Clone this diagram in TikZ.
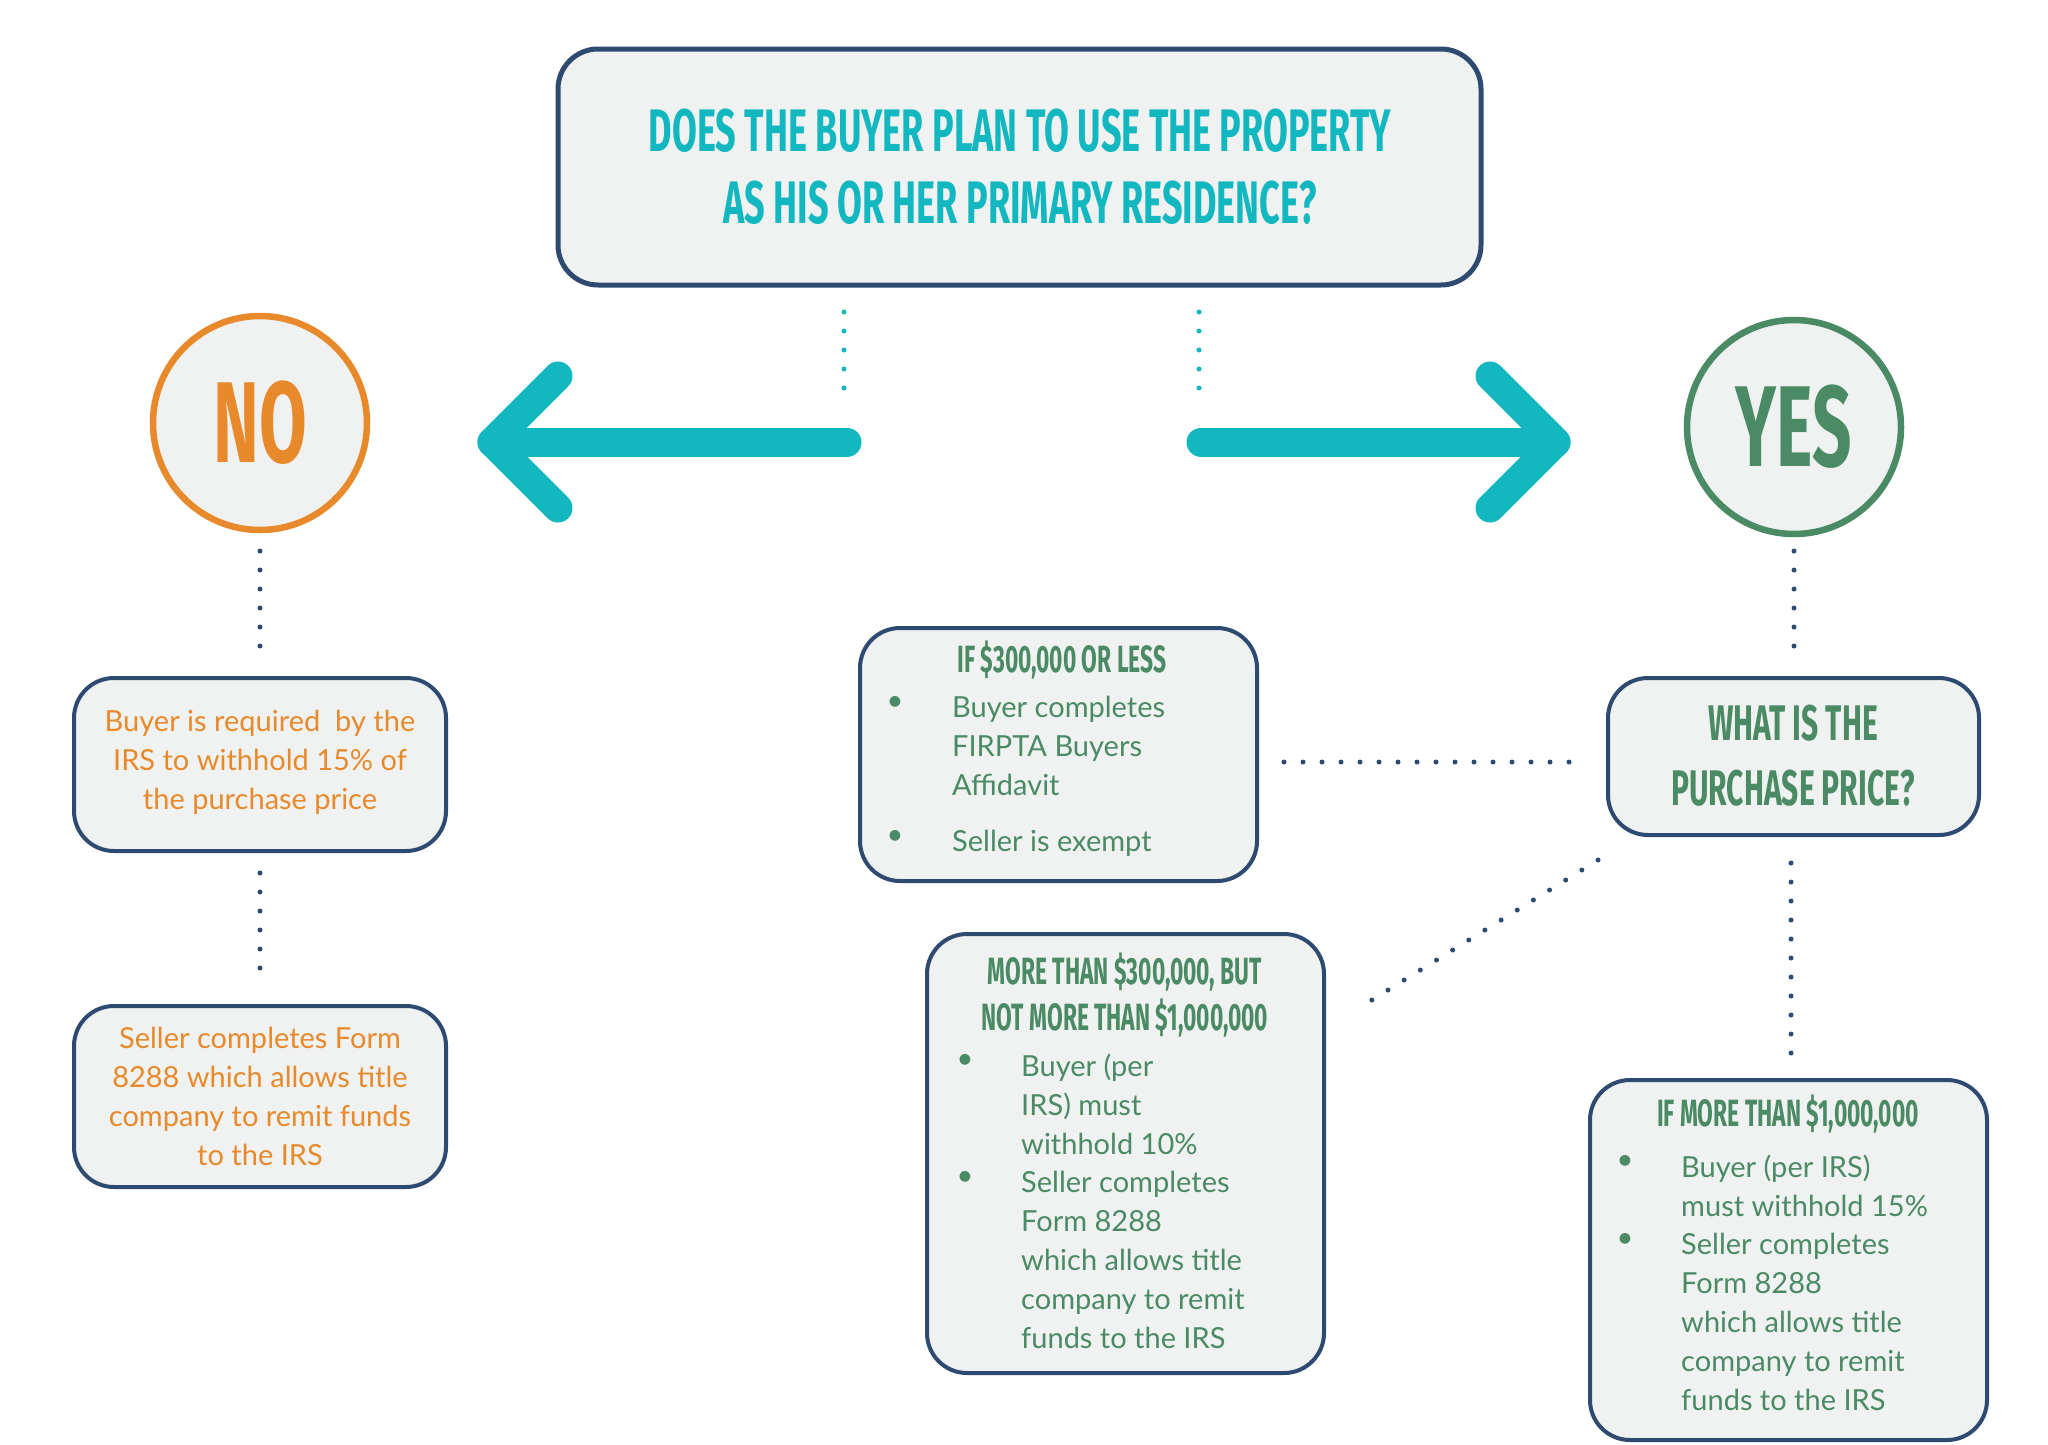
\documentclass[tikz,border=0pt]{standalone}
\usepackage{fontspec}
\setmainfont{Lato}
\newfontfamily\cond{Fira Sans}[FakeStretch=0.6]
\definecolor{teal}{HTML}{12B7BF}
\definecolor{navy}{HTML}{2E4A70}
\definecolor{boxfill}{HTML}{F0F2F1}
\definecolor{orng}{HTML}{E8892B}
\definecolor{grn}{HTML}{4A8A64}
\begin{document}
\begin{tikzpicture}[x=1pt,y=-1pt,
  box/.style={draw=navy,line width=4pt,fill=boxfill,rounded corners=40pt},
  dots/.style={line width=5pt,line cap=round,dash pattern=on 0pt off 19pt},
  arr/.style={teal,line width=29pt,line cap=round,line join=round},
  head/.style={font=\cond\bfseries\fontsize{38}{46}\selectfont,text=grn,align=center},
  body/.style={font=\fontsize{29}{39}\selectfont,text=grn,align=left,anchor=north west,inner sep=0pt},
  bul/.style={font=\fontsize{29}{39}\selectfont,text=grn,anchor=north,inner sep=0pt},
  obody/.style={font=\fontsize{29}{39}\selectfont,text=orng,align=center,inner sep=0pt}]
\useasboundingbox[fill=white] (0,0) rectangle (2048,1444);
% top question
\draw[box,line width=5pt] (558,49) rectangle (1481,285);
\node[font=\cond\bfseries\fontsize{60}{72}\selectfont,text=teal,align=center] (q) at (1020,167)
  {DOES THE BUYER PLAN TO USE THE PROPERTY\\AS HIS OR HER PRIMARY RESIDENCE?};
% arrows
\coordinate (ls) at (847,442); \coordinate (lt) at (492,442);
\coordinate (la) at (558,376); \coordinate (lb) at (558,508);
\draw[arr] (ls) -- (lt); \draw[arr] (la) -- (lt) -- (lb);
\coordinate (rs) at (1201,442); \coordinate (rt) at (1556,442);
\coordinate (ra) at (1490,376); \coordinate (rb) at (1490,508);
\draw[arr] (rs) -- (rt); \draw[arr] (ra) -- (rt) -- (rb);
\coordinate (d1a) at (844,312); \coordinate (d1b) at (844,400);
\coordinate (d2a) at (1199,312); \coordinate (d2b) at (1199,400);
\draw[dots,teal] (d1a) -- (d1b); \draw[dots,teal] (d2a) -- (d2b);
% circles
\node[circle,draw=orng,line width=6.5pt,fill=boxfill,minimum size=214pt,inner sep=0pt,
  font=\cond\bfseries\fontsize{115}{120}\selectfont,text=orng] (no) at (260,423) {NO};
\node[circle,draw=grn,line width=6.5pt,fill=boxfill,minimum size=214pt,inner sep=0pt,
  font=\cond\bfseries\fontsize{115}{120}\selectfont,text=grn] (yes) at (1794,427) {YES};
% left column
\draw[box] (74,678) rectangle (446,851);
\node[obody] (n1) at (260,762) {Buyer is required\ \ by the\\IRS to withhold 15\% of\\the purchase price};
\draw[box] (74,1006) rectangle (446,1187);
\node[obody] (n2) at (260,1096) {Seller completes Form\\8288 which allows title\\company to remit funds\\to the IRS};
\coordinate (c1a) at (260,551); \coordinate (c1b) at (260,657);
\coordinate (c2a) at (260,873); \coordinate (c2b) at (260,982);
\draw[dots,navy] (c1a) -- (c1b); \draw[dots,navy] (c2a) -- (c2b);
% price box
\draw[box] (1608,678) rectangle (1979,835);
\node[head,font=\cond\bfseries\fontsize{50}{65}\selectfont] (pp) at (1793,756) {WHAT IS THE\\PURCHASE PRICE?};
\coordinate (y1a) at (1794,551); \coordinate (y1b) at (1794,657);
\draw[dots,navy] (y1a) -- (y1b);
% 300k box
\draw[box] (860,628) rectangle (1257,881);
\node[head] (h1) at (1062,660) {IF \$300,000 OR LESS};
\node[bul] (b11) at (895,696) {\textbullet};
\node[body] (t11) at (952,696) {Buyer completes\\FIRPTA Buyers\\Affidavit};
\node[bul] (b12) at (895,830) {\textbullet};
\node[body] (t12) at (952,830) {Seller is exempt};
\coordinate (hA) at (1284,762); \coordinate (hB) at (1569,762);
\draw[dots,navy] (hA) -- (hB);
% mid box
\draw[box] (927,934) rectangle (1324,1373);
\node[head] (h2) at (1125,995) {MORE THAN \$300,000, BUT\\NOT MORE THAN \$1,000,000};
\node[bul] (b21) at (965,1054) {\textbullet};
\node[body] (t21) at (1021,1054) {Buyer (per\\IRS) must\\withhold 10\%};
\node[bul] (b22) at (965,1171) {\textbullet};
\node[body] (t22) at (1021,1171) {Seller completes\\Form 8288\\which allows title\\company to remit\\funds to the IRS};
\coordinate (gA) at (1598,860); \coordinate (gB) at (1359,1008);
\draw[dots,navy] (gA) -- (gB);
% right box
\coordinate (v1a) at (1791,863); \coordinate (v1b) at (1791,1061);
\draw[dots,navy] (v1a) -- (v1b);
\draw[box] (1590,1080) rectangle (1987,1440);
\node[head] (h3) at (1788,1114) {IF MORE THAN \$1,000,000};
\node[bul] (b31) at (1625,1155) {\textbullet};
\node[body] (t31) at (1681,1155) {Buyer (per IRS)\\must withhold 15\%};
\node[bul] (b32) at (1625,1233) {\textbullet};
\node[body] (t32) at (1681,1233) {Seller completes\\Form 8288\\which allows title\\company to remit\\funds to the IRS};
\end{tikzpicture}
\end{document}
